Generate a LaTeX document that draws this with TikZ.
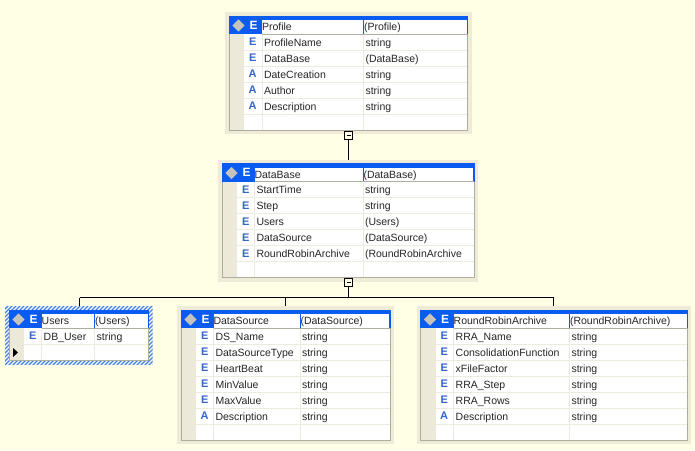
\documentclass[tikz,border=0pt]{standalone}
\usepackage{fontspec}
\setmainfont{Liberation Sans}
\usetikzlibrary{calc}
\definecolor{pagebg}{HTML}{FFFFE6}
\definecolor{framec}{HTML}{EEEBD6}
\definecolor{edgec}{HTML}{B0AD9E}
\definecolor{gutterc}{HTML}{ECE9D8}
\definecolor{gridc}{HTML}{EDEBDD}
\definecolor{headc}{HTML}{0A5CF0}
\definecolor{iconc}{HTML}{3366CC}
\definecolor{diamc}{HTML}{C6C3BA}
\definecolor{hatchc}{HTML}{3F7FE0}
\tikzset{
  x=1pt,y=-1pt,
  cell/.style={anchor=base west,inner sep=0pt,outer sep=0pt,font=\fontsize{10.5}{12}\selectfont,text=black!85},
  iconl/.style={anchor=base,inner sep=0pt,font=\fontsize{11}{12}\selectfont\bfseries,text=iconc},
  iconh/.style={anchor=base,inner sep=0pt,font=\fontsize{12}{14}\selectfont\bfseries,text=white},
  framebox/.style={fill=framec,draw=none,inner sep=0pt,outer sep=0pt},
  toggle/.style={draw=black,fill=pagebg,line width=1pt,minimum width=8pt,minimum height=8pt,inner sep=0pt,outer sep=0pt},
  link/.style={draw=black,line width=1pt},
}
\newcommand{\framehook}{}
% #1 id, #2 L, #3 R, #4 T, #5 name column, #6 type column, #7 rows incl. empty, #8 title, #9 type
\newcommand{\gridtable}[9]{%
  \pgfmathsetmacro{\tB}{#4+18+16*#7}
  \pgfmathsetmacro{\tH}{\tB-#4+8}
  \pgfmathsetmacro{\tW}{#3-#2+8}
  \pgfmathsetmacro{\tCx}{(#2+#3)/2}
  \pgfmathsetmacro{\tCy}{(#4+\tB)/2}
  \node[framebox,minimum width=\tW pt,minimum height=\tH pt] (#1) at (\tCx,\tCy) {};
  \framehook
  \fill[white] (#2,#4) rectangle (#3,\tB);
  \fill[gutterc] (#2,#4) rectangle (#2+15,\tB);
  \foreach \ri in {1,...,#7}{
    \draw[gridc,line width=1pt] (#2+15,#4+18+16*\ri) -- (#3,#4+18+16*\ri);
  }
  \draw[gridc,line width=1pt] (#5,#4+18) -- (#5,\tB) (#6,#4+18) -- (#6,\tB);
  \fill[headc] (#2,#4) rectangle (#3,#4+4);
  \fill[headc] (#2,#4) rectangle (#5,#4+18);
  \draw[edgec,line width=1pt] (#2,#4) rectangle (#3,\tB);
  \fill[headc] (#3-0.8,#4) rectangle (#3+0.5,#4+18);
  \fill[headc] (#6-0.5,#4) rectangle (#6+0.5,#4+18);
  \fill[headc] (#2-0.5,#4-0.5) rectangle (#5,#4+18);
  \fill[headc] (#2-0.5,#4-0.5) rectangle (#3+0.5,#4+4);
  \draw[edgec,line width=1pt] (#5,#4+18) -- (#3,#4+18);
  \fill[diamc] (#2+9.5,#4+3.3) -- (#2+15.7,#4+9.5) -- (#2+9.5,#4+15.7) -- (#2+3.3,#4+9.5) -- cycle;
  \node[iconh] (#1-icon) at (#2+24.7,#4+13) {E};
  \node[cell] (#1-title) at (#5,#4+14.8) {#8};
  \node[cell] (#1-type) at (#6+0.5,#4+14.8) {#9};
}
% #1 id, #2 row, #3 L, #4 T, #5 name col, #6 type col, #7 letter, #8 name, #9 type
\newcommand{\gridrow}[9]{%
  \pgfmathsetmacro{\rY}{#4+18+16*#2-3.6}
  \pgfmathsetmacro{\rZ}{\rY-0.8}
  \node[iconl] (#1-l#2) at (#3+23.7,\rZ) {#7};
  \node[cell] (#1-n#2) at (#5+2,\rY) {#8};
  \node[cell] (#1-t#2) at (#6+2,\rY) {#9};
}
\begin{document}
\begin{tikzpicture}
\useasboundingbox (0,0) rectangle (695,450);
\fill[pagebg] (0,0) rectangle (695,450);

% Profile
\gridtable{profile}{229}{467.5}{16}{262}{363.5}{6}{Profile}{(Profile)}
\gridrow{profile}{1}{229}{16}{262}{363.5}{E}{ProfileName}{string}
\gridrow{profile}{2}{229}{16}{262}{363.5}{E}{DataBase}{(DataBase)}
\gridrow{profile}{3}{229}{16}{262}{363.5}{A}{DateCreation}{string}
\gridrow{profile}{4}{229}{16}{262}{363.5}{A}{Author}{string}
\gridrow{profile}{5}{229}{16}{262}{363.5}{A}{Description}{string}

% DataBase
\gridtable{database}{222}{474}{163.5}{254.5}{363}{6}{DataBase}{(DataBase)}
\gridrow{database}{1}{222}{163.5}{254.5}{363}{E}{StartTime}{string}
\gridrow{database}{2}{222}{163.5}{254.5}{363}{E}{Step}{string}
\gridrow{database}{3}{222}{163.5}{254.5}{363}{E}{Users}{(Users)}
\gridrow{database}{4}{222}{163.5}{254.5}{363}{E}{DataSource}{(DataSource)}
\gridrow{database}{5}{222}{163.5}{254.5}{363}{E}{RoundRobinArchive}{(RoundRobinArchive}

% Users (selected: hatched frame)
\renewcommand{\framehook}{%
  \begin{scope}
    \clip (5,306) rectangle (152.7,364.5);
    \fill[white] (5,306) rectangle (152.7,364.5);
    \foreach \hx in {-60,-56,...,156}{
      \draw[hatchc,line width=1.3pt] (\hx,366) -- (\hx+62,304);
    }
  \end{scope}}
\gridtable{users}{9}{148.7}{310}{41.7}{94.7}{2}{Users}{(Users)}
\renewcommand{\framehook}{}
\gridrow{users}{1}{9}{310}{41.7}{94.7}{E}{DB\_User}{string}
\fill[black] (13,348) -- (18,352.5) -- (13,357) -- cycle;

% DataSource
\gridtable{datasource}{181}{390}{310}{213.5}{300}{7}{DataSource}{(DataSource)}
\gridrow{datasource}{1}{181}{310}{213.5}{300}{E}{DS\_Name}{string}
\gridrow{datasource}{2}{181}{310}{213.5}{300}{E}{DataSourceType}{string}
\gridrow{datasource}{3}{181}{310}{213.5}{300}{E}{HeartBeat}{string}
\gridrow{datasource}{4}{181}{310}{213.5}{300}{E}{MinValue}{string}
\gridrow{datasource}{5}{181}{310}{213.5}{300}{E}{MaxValue}{string}
\gridrow{datasource}{6}{181}{310}{213.5}{300}{A}{Description}{string}

% RoundRobinArchive
\gridtable{rra}{420.5}{687.3}{310}{453.7}{569.5}{7}{RoundRobinArchive}{(RoundRobinArchive)}
\gridrow{rra}{1}{420.5}{310}{453.7}{569.5}{E}{RRA\_Name}{string}
\gridrow{rra}{2}{420.5}{310}{453.7}{569.5}{E}{ConsolidationFunction}{string}
\gridrow{rra}{3}{420.5}{310}{453.7}{569.5}{E}{xFileFactor}{string}
\gridrow{rra}{4}{420.5}{310}{453.7}{569.5}{E}{RRA\_Step}{string}
\gridrow{rra}{5}{420.5}{310}{453.7}{569.5}{E}{RRA\_Rows}{string}
\gridrow{rra}{6}{420.5}{310}{453.7}{569.5}{A}{Description}{string}

% connectors
\node[toggle] (t1) at (348.5,135.5) {};
\node[toggle] (t2) at (348.5,282.5) {};
\draw[black,line width=1pt] (t1.center) ++(-2,0) -- ++(4,0) (t2.center) ++(-2,0) -- ++(4,0);
\coordinate (busm) at (348.5,297.5);
\coordinate (busu) at (79.5,297.5);
\coordinate (busd) at (285.5,297.5);
\coordinate (busr) at (553.5,297.5);
\draw[link] (t1.south) -- (t1.south |- database.north);
\draw[link] (t2.south) -- (busm);
\draw[link] (busu) -- (busr);
\draw[link] (busu) -- (busu |- users.north);
\draw[link] (busd) -- (busd |- datasource.north);
\draw[link] (busr) -- (busr |- rra.north);
\end{tikzpicture}
\end{document}
